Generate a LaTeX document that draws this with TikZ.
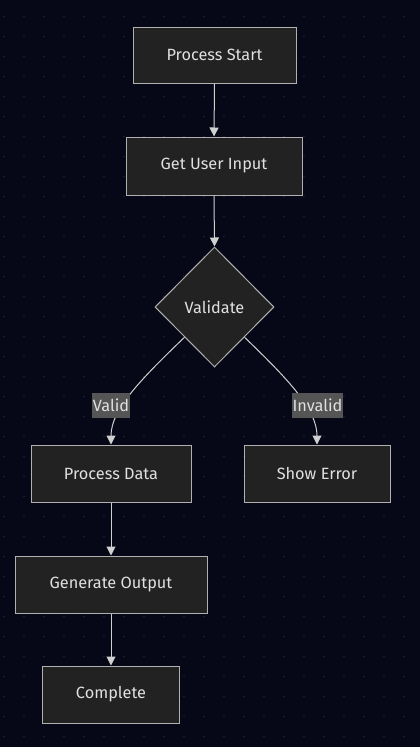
\documentclass[tikz,border=0pt]{standalone}
\usepackage{fontspec}
\setmainfont{Fira Sans}
\usetikzlibrary{shapes.geometric,arrows.meta}
\definecolor{bgc}{HTML}{060817}
\definecolor{dotc}{HTML}{1E2233}
\definecolor{nodefill}{HTML}{222222}
\definecolor{nodeborder}{HTML}{B0B0B0}
\definecolor{txt}{HTML}{E0E0E0}
\definecolor{edgec}{HTML}{D0D0D0}
\definecolor{lblbg}{HTML}{555555}
\tikzset{
  box/.style={draw=nodeborder, fill=nodefill, line width=1pt, text=txt, font=\fontsize{16.3}{19}\selectfont, inner sep=0pt, anchor=center},
  dec/.style={diamond, draw=nodeborder, fill=nodefill, line width=1pt, text=txt, font=\fontsize{16.3}{19}\selectfont, inner sep=0pt, minimum width=119pt, minimum height=120pt, aspect=1},
  flow/.style={draw=edgec, line width=1pt, -{Triangle[length=9pt,width=9pt]}},
  lbl/.style={fill=lblbg, text=txt, font=\fontsize{16.3}{19}\selectfont, inner sep=1pt, minimum height=25pt},
}
\begin{document}
\begin{tikzpicture}[x=1pt,y=-1pt]
\fill[bgc] (0,0) rectangle (420,747);
\useasboundingbox (0,0) rectangle (420,747);
\foreach \i in {0,...,20} {
  \foreach \j in {0,...,36} {
    \fill[dotc] ({4+20*\i},{16.5+20*\j}) circle (0.9pt);
  }
}
\node[box, minimum width=163pt, minimum height=56pt] (start) at (214.5,55) {Process Start};
\node[box, minimum width=176pt, minimum height=58pt] (input) at (214,166) {Get User Input};
\node[dec] (val) at (214.5,307) {Validate};
\node[box, minimum width=160pt, minimum height=57pt] (proc) at (111,473.5) {Process Data};
\node[box, minimum width=146pt, minimum height=57pt] (err) at (317,473.5) {Show Error};
\node[box, minimum width=192pt, minimum height=57pt] (gen) at (111,584.5) {Generate Output};
\node[box, minimum width=137pt, minimum height=57pt] (done) at (111,694.5) {Complete};

\draw[flow] (start.south) -- (input.north);
\draw[flow] (input.south) -- (val.north);
\draw[flow] (val.south west) .. controls (140,380) and (111,410) .. (proc.north);
\draw[flow] (val.south east) .. controls (289,380) and (317,410) .. (err.north);
\draw[flow] (proc.south) -- (gen.north);
\draw[flow] (gen.south) -- (done.north);

\node[lbl] (lv) at (111,405.5) {Valid};
\node[lbl] (li) at (317.5,405.5) {Invalid};
\end{tikzpicture}
\end{document}
